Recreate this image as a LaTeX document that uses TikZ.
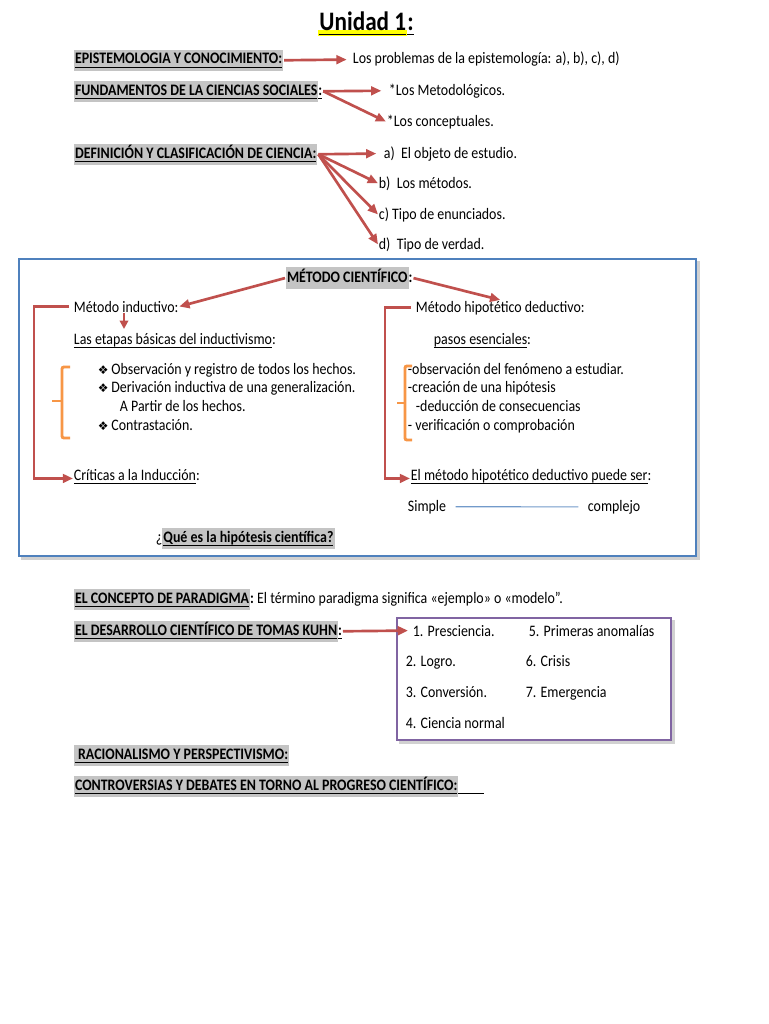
\documentclass[tikz,border=0pt]{standalone}
\usepackage{fontspec}
\setmainfont{Carlito}[FakeStretch=0.87]
\newfontfamily\simbolos{DejaVu Sans}
\usepackage{xcolor}
\usetikzlibrary{arrows.meta,positioning}
\definecolor{rojo}{HTML}{C0504D}
\definecolor{azul}{HTML}{4F81BD}
\definecolor{naranja}{HTML}{F79646}
\definecolor{morado}{HTML}{8064A2}
\definecolor{resalte}{HTML}{C4C4C4}
\definecolor{amarillo}{HTML}{FFFF00}
\tikzset{
  texto/.style={anchor=base west,inner sep=0.5pt,font=\fontsize{12}{14}\selectfont},
  tema/.style={texto,font=\fontsize{12}{14}\selectfont\bfseries},
  flecha/.style={-{Triangle[length=2.7mm,width=2.3mm]},line width=2pt,rojo},
  llave/.style={naranja,line width=2.2pt,rounded corners=1.5pt},
  caja/.style={line width=2.2pt},
  sombra/.style={caja,black!18,line width=3pt,transform canvas={shift={(1.5pt,-1.8pt)}}},
}
\newcommand{\subr}[1]{\underline{\smash{#1}\vrule width 0pt depth 1pt}}
\newcommand{\resaltar}[1]{{\setlength{\fboxsep}{0.8pt}\colorbox{resalte}{\strut #1}}}
\newcommand{\marca}[1]{\resaltar{\subr{#1}}}
\newcommand{\vineta}{{\simbolos\fontsize{9}{10}\selectfont ❖}\,}

\begin{document}
\begin{tikzpicture}[x=0.75pt,y=-0.75pt]
\path[use as bounding box,fill=white] (0,0) rectangle (768,1024);
% título
\node[anchor=base,inner sep=0pt,font=\fontsize{20}{24}\selectfont\bfseries] (tit) at (366,31)
  {{\setlength{\fboxsep}{1pt}\colorbox{amarillo}{\subr{Unidad 1}}}\subr{:}};
% temas de arriba
\node[tema] (epi) at (73,64) {\marca{EPISTEMOLOGIA Y CONOCIMIENTO:}};
\node[texto] (prob) at (352,64) {Los problemas de la epistemología: a), b), c), d)};
\draw[flecha,shorten >=4pt] (epi.east) -- (prob.west);
\node[tema] (fund) at (73,95) {\marca{FUNDAMENTOS DE LA CIENCIAS SOCIALES}\subr{:}};
\node[texto] (metod) at (388,95) {*Los Metodológicos.};
\node[texto] (concep) at (386,126) {*Los conceptuales.};
\draw[flecha,shorten >=5pt] (fund.east) -- (metod.west);
\draw[flecha] (fund.east) -- (concep.west);
\node[tema] (def) at (73,158) {\marca{DEFINICIÓN Y CLASIFICACIÓN DE CIENCIA:}};
\node[texto] (da) at (383,158) {a)\ \ El objeto de estudio.};
\node[texto] (db) at (378,188) {b)\ \ Los métodos.};
\node[texto] (dc) at (378,219) {c) Tipo de enunciados.};
\node[texto] (dd) at (378,249) {d)\ \ Tipo de verdad.};
\draw[flecha,shorten >=5pt] (def.east) -- (da.west);
\foreach \d in {db,dc,dd}
  \draw[flecha] (def.east) -- (\d.west);
% método científico
\draw[sombra] (19,556) -| (696,259);
\draw[caja,azul] (19,259) rectangle (696,556);
\node[tema] (mc) at (285,282) {\resaltar{MÉTODO CIENTÍFICO}:};
\node[texto] (ind) at (73,312) {Método inductivo:};
\node[texto] (hd) at (415,312) {Método hipotético deductivo:};
\draw[flecha] (mc.west) -- (ind.east);
\draw[flecha] (mc.east) -- (hd.north);
% lado inductivo
\node[texto] (etapas) at (73,344) {\subr{Las etapas básicas del inductivismo}:};
\draw[flecha,-{Triangle[length=2.2mm,width=2.2mm]}] (ind.south -| 124,0) -- (124,329);
\node[texto] (obs1) at (97,374) {\vineta Observación y registro de todos los hechos.};
\node[texto] (obs2) at (97,392) {\vineta Derivación inductiva de una generalización.};
\node[texto] (obs3) at (119,411) {A Partir de los hechos.};
\node[texto] (obs4) at (97,430) {\vineta Contrastación.};
\draw[llave] (70,367) -- (62,367) -- (62,438) -- (70,438);
\draw[llave] (62,401) -- (52,401);
\node[texto] (crit) at (73,480) {\subr{Críticas a la Inducción}:};
\draw[flecha] ([xshift=-3pt]ind.west) -- ++(-35,0) |- (crit.west);
% lado hipotético deductivo
\node[texto] (pasos) at (433,344) {\subr{pasos esenciales}:};
\node[texto] (p1) at (407,374) {-observación del fenómeno a estudiar.};
\node[texto] (p2) at (407,392) {-creación de una hipótesis};
\node[texto] (p3) at (415,411) {-deducción de consecuencias};
\node[texto] (p4) at (407,430) {- verificación o comprobación};
\draw[llave] (412,366) -- (405,366) -- (405,440) -- (412,440);
\draw[llave] (405,403) -- (397,403);
\node[texto] (puede) at (410,480) {\subr{El método hipotético deductivo puede ser}:};
\draw[flecha] ([xshift=-3pt]hd.west) -- ++(-26,0) |- (puede.west);
\node[texto] (simple) at (407,511) {Simple};
\node[texto] (compl) at (587,511) {complejo};
\draw[azul!80,line width=0.8pt,shorten <=6.5pt,shorten >=6.5pt] (simple.east) -- (compl.west);
\node[tema] (que) at (155,542) {{\mdseries ¿}\marca{Qué es la hipótesis científica?}};
% paradigma y Kuhn
\node[tema] (parad) at (73,603) {\marca{EL CONCEPTO DE PARADIGMA}:\mdseries\ El término paradigma significa «ejemplo» o «modelo”.};
\node[tema] (kuhn) at (73,635) {\marca{EL DESARROLLO CIENTÍFICO DE TOMAS KUHN}\subr{:}};
\draw[sombra] (397,740) -| (671,618);
\draw[caja,morado] (397,618) rectangle (671,740);
\node[texto] (k1) at (412,636) {1. Presciencia.};
\node[texto] (k5) at (528,636) {5. Primeras anomalías};
\node[texto] (k2) at (405,666) {2. Logro.};
\node[texto] (k6) at (525,666) {6. Crisis};
\node[texto] (k3) at (405,697) {3. Conversión.};
\node[texto] (k7) at (525,697) {7. Emergencia};
\node[texto] (k4) at (405,728) {4. Ciencia normal};
\draw[flecha,shorten >=3pt] (kuhn.east) -- (k1.west);
% temas de abajo
\node[tema] (racio) at (73,759) {\marca{\ RACIONALISMO Y PERSPECTIVISMO:}};
\node[tema] (contro) at (73,790) {\marca{CONTROVERSIAS Y DEBATES EN TORNO AL PROGRESO CIENTÍFICO:}\subr{\hspace{19pt}}};
\end{tikzpicture}
\end{document}
